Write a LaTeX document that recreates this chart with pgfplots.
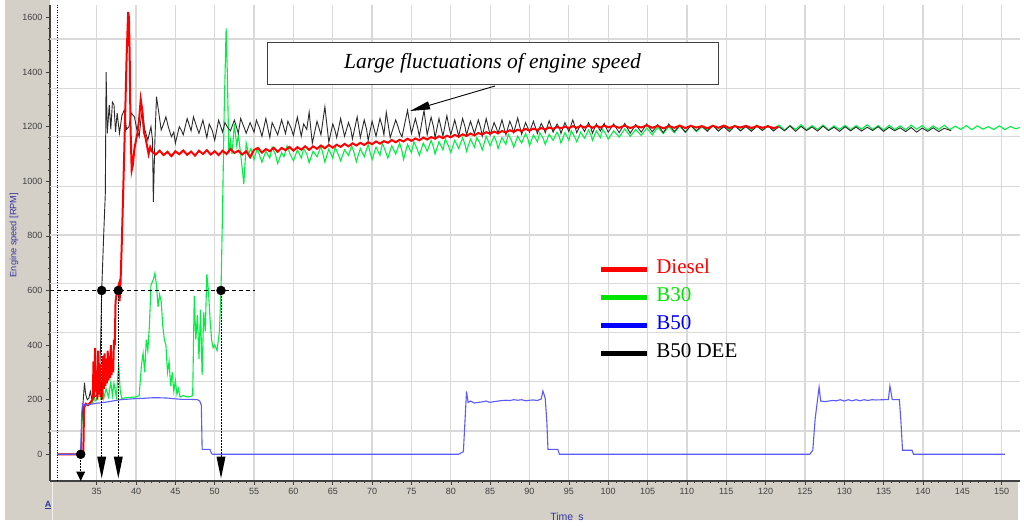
\documentclass[border=0pt]{standalone}
\usepackage{pgfplots}
\pgfplotsset{compat=1.18}
\usetikzlibrary{arrows.meta}
\usepackage{fontspec}
\setmainfont{Liberation Serif}
\newfontfamily\arial{Liberation Sans}
\definecolor{beige}{HTML}{D4D0C8}
\definecolor{bgreen}{HTML}{00F040}
\definecolor{lblue}{HTML}{5A5AFF}
\definecolor{dgray}{HTML}{2B2B2B}
\definecolor{tickgray}{HTML}{404040}
\definecolor{labblue}{HTML}{3333A0}
\definecolor{gridgray}{HTML}{D9D9D9}
\pgfdeclareplotmark{bigtri}{\pgfpathmoveto{\pgfqpoint{-4.5pt}{10.8pt}}\pgfpathlineto{\pgfqpoint{4.5pt}{10.8pt}}\pgfpathlineto{\pgfqpoint{0pt}{-10.8pt}}\pgfpathclose\pgfusepathqfill}
\pgfdeclareplotmark{smalltri}{\pgfpathmoveto{\pgfqpoint{-4.5pt}{4.7pt}}\pgfpathlineto{\pgfqpoint{4.5pt}{4.7pt}}\pgfpathlineto{\pgfqpoint{0pt}{-4.7pt}}\pgfpathclose\pgfusepathqfill}
\begin{document}
\begin{tikzpicture}[x=1pt,y=1pt]
\path[use as bounding box] (0,0) rectangle (1024,526);
\fill[white] (0,0) rectangle (1024,526);
\fill[beige] (5,6) rectangle (50,526);
\fill[beige] (5,6) rectangle (1018,45);
\fill[white!70!beige] (51.5,6) rectangle (53,45);
\begin{axis}[
  at={(50pt,45pt)}, anchor=south west,
  scale only axis, width=970pt, height=476pt,
  xmin=29.07, xmax=152.33, ymin=-97.8, ymax=1645.8,
  axis x line*=bottom, axis y line*=left,
  axis line style={-, draw=tickgray, line width=1.5pt},
  xtick={35,40,...,150}, ytick={0,200,...,1600},
  minor x tick num=4, minor y tick num=4,
  tick align=outside, major tick length=4pt, minor tick length=2pt,
  tick style={draw=tickgray, line width=0.6pt},
  xmajorgrids=true, ymajorgrids=false,
  grid style={draw=gridgray, line width=1.3pt},
  extra y ticks={85.4,266,445,626,803,980,1163,1340,1521},
  extra y tick labels={},
  extra y tick style={grid=major, major tick length=0pt},
  /pgf/number format/assume math mode=true,
  /pgf/number format/1000 sep={},
  ticklabel style={font=\arial\fontsize{9}{10}\selectfont, text=tickgray},
  legend style={at={(0.565,0.472)}, anchor=north west, draw=none, fill=none,
    inner sep=0pt, row sep=5pt, font=\fontsize{21}{21}\selectfont,
    nodes={inner sep=2pt, text height=15pt, text depth=4pt},
    /tikz/every odd column/.append style={column sep=5pt}},
  legend cell align=left,
  legend image code/.code={\draw[#1] (0pt,-1pt) -- (46pt,-1pt);},
]
% B30 (green)
\addplot[forget plot, color=bgreen, line width=1.1pt] coordinates {
(30,0)(33.0,0)(33.1,100)(33.3,180)(34,183)(34.5,190)(34.6,225)(34.8,195)(35.0,200)(35.3,250)(35.5,200)(35.7,270)(35.9,205)(36.2,240)(36.5,210)(36.8,265)(37.0,215)(37.2,260)(37.5,210)(37.8,330)(38.0,230)(38.2,205)(39,208)(40,210)(40.4,215)(40.7,330)(40.9,370)(41.1,300)(41.3,420)(41.5,380)(41.7,470)(41.9,620)(42.2,640)(42.4,663)(42.6,620)(42.8,540)(43.0,585)(43.2,560)(43.4,470)(43.6,420)(43.8,400)(44.0,300)(44.2,340)(44.4,250)(44.6,300)(44.8,230)(45.0,270)(45.2,220)(45.4,240)(45.6,210)(46,215)(46.5,210)(47,212)(47.2,215)(47.4,580)(47.6,420)(47.8,510)(48.0,350)(48.2,530)(48.4,290)(48.6,520)(48.8,450)(49.0,660)(49.2,600)(49.4,500)(49.6,420)(49.8,390)(50.0,400)(50.3,380)(50.6,450)(50.8,600)(51.0,900)(51.2,1250)(51.45,1560)(51.6,1400)(51.8,1100)(52.0,1150)(52.2,1100)(52.5,1210)(52.8,1130)(53.0,1170)(53.3,1100)(53.7,990)(54.0,1140)(54.3,1100)(54.6,1120)
(55.0,1080)(55.4,1120)(55.7,1095)(56.0,1070)(56.5,1110)(57.0,1085)(57.3,1125)(57.7,1100)(58.0,1065)(58.5,1105)(58.8,1090)(59.2,1130)(59.6,1098)(60.0,1075)(60.5,1115)(61.0,1085)(61.3,1120)(61.7,1100)(62.0,1068)(62.5,1110)(63.0,1090)(63.5,1128)(63.8,1095)(64.0,1070)(64.5,1118)(65.0,1085)(65.3,1125)(65.7,1098)(66.0,1075)(66.5,1115)(67.0,1095)(67.4,1130)(67.7,1105)(68.0,1072)(68.5,1120)(69.0,1090)(69.5,1135)(69.8,1100)(70.0,1080)(70.5,1125)(71.0,1095)(71.3,1140)(71.7,1110)(72.0,1085)(72.5,1130)(73.0,1100)(73.5,1140)(73.8,1110)(74.0,1080)(74.5,1135)(75.0,1105)(75.3,1145)(75.7,1120)(76.0,1095)(76.5,1140)(77.0,1110)(77.5,1150)(77.8,1125)(78.0,1100)(78.5,1145)(79.0,1115)(79.3,1155)(79.7,1130)(80.0,1105)(80.5,1150)(81.0,1120)(81.5,1160)(81.8,1135)(82.0,1110)(82.5,1155)(83.0,1125)(83.3,1160)(83.7,1140)(84.0,1115)(84.5,1165)(85.0,1130)(85.5,1165)(85.8,1145)(86.0,1120)(86.5,1160)(87.0,1135)(87.3,1172)(87.7,1150)(88.0,1125)(88.5,1165)(89.0,1140)(89.5,1175)(89.8,1155)(90.0,1130)(90.5,1170)(91.0,1145)(91.3,1178)(91.7,1160)(92.0,1135)(92.5,1172)(93.0,1150)(93.5,1180)(93.8,1162)(94.0,1140)(94.5,1178)(95.0,1150)(95.3,1185)(95.7,1165)(96.0,1145)(96.5,1180)(97.0,1158)(97.5,1188)(97.8,1170)(98.0,1150)(98.5,1185)(99.0,1160)(99.3,1190)(99.7,1172)(100.0,1155)
(100.7,1185)(101.4,1162)(102.1,1192)(102.8,1165)(103.5,1190)(104.2,1168)(104.9,1195)(105.6,1170)(106.3,1198)(107.0,1175)(107.7,1200)(108.4,1178)(109.1,1202)(109.8,1180)(110.5,1205)(111.2,1182)(111.9,1200)(112.6,1186)(113.3,1205)(114.0,1185)(114.7,1202)(115.4,1188)(116.1,1205)(116.8,1186)(117.5,1203)(118.2,1188)(118.9,1206)(119.6,1187)(120.3,1204)(121.0,1190)(121.7,1206)(122.4,1188)(123.1,1204)(123.8,1190)(124.5,1207)(125.2,1189)(125.9,1204)(126.6,1190)(127.3,1206)(128.0,1188)(128.7,1203)(129.4,1190)(130.1,1205)(130.8,1189)(131.5,1204)(132.2,1191)(132.9,1207)(133.6,1190)(134.3,1204)(135.0,1188)(135.7,1205)(136.4,1190)(137.1,1203)(137.8,1189)(138.5,1206)(139.2,1191)(139.9,1204)(140.6,1188)(141.3,1203)(142.0,1190)(142.7,1205)(143.4,1189)(144.1,1202)(144.8,1190)(145.5,1204)(146.2,1189)(146.9,1203)(147.6,1191)(148.3,1200)(149.0,1190)(149.7,1203)(150.4,1189)(151.1,1201)(151.8,1192)(152.3,1197)
};
% B50 DEE (black)
\addplot[forget plot, color=dgray, line width=0.9pt] coordinates {
(30,0)(33.0,0)(33.1,120)(33.3,200)(33.45,262)(33.6,220)(33.8,200)(34.0,205)(34.2,230)(34.4,200)(34.7,210)(35.0,215)(35.2,280)(35.4,321)(35.5,400)(35.64,600)(35.9,810)(36.1,956)(36.2,1400)(36.35,1176)(36.6,1280)(36.8,1190)(37.0,1290)(37.2,1280)(37.4,1180)(37.6,1250)(37.9,1176)(38.2,1240)(38.5,1261)(38.8,1190)(39.1,1200)(39.4,1250)(39.8,1236)(40.1,1190)(40.4,1163)(40.6,1220)(40.8,1261)(41.1,1190)(41.5,1151)(41.9,1200)(42.1,1150)(42.2,925)(42.4,1150)(42.6,1310)(42.9,1250)(43.2,1188)(43.5,1210)(43.8,1236)(44.1,1200)(44.5,1163)(44.8,1180)
(45.0,1139)(45.5,1200)(45.8,1185)(46.0,1170)(46.5,1230)(47.0,1185)(47.3,1236)(47.7,1200)(48.0,1176)(48.5,1224)(49.0,1160)(49.3,1210)(49.7,1185)(50.0,1150)(50.5,1224)(51.0,1180)(51.3,1215)(51.7,1195)(52.0,1185)(52.5,1224)(53.0,1176)(53.3,1230)(53.7,1200)(54.0,1176)(54.5,1215)(55.0,1180)(55.3,1224)(55.7,1195)(56.0,1165)(56.5,1230)(57.0,1160)(57.3,1215)(57.7,1190)(58.0,1170)(58.5,1225)(59.0,1175)(59.3,1220)(59.7,1195)(60.0,1168)(60.5,1235)(61.0,1165)(61.3,1210)(61.7,1190)(62.0,1253)(62.4,1139)(63.0,1220)(63.3,1190)(63.5,1170)(64.0,1273)(64.5,1143)(65.0,1210)(65.3,1185)(65.5,1160)(66.0,1230)(66.5,1165)(67.0,1215)(67.3,1190)(67.5,1155)(68.1,1236)(68.5,1160)(69.0,1225)(69.3,1190)(69.5,1150)(70.0,1220)(70.5,1165)(71.0,1230)(71.3,1200)(71.5,1170)(71.8,1253)(72.3,1160)(73.0,1225)(73.3,1200)(73.5,1180)(73.8,1163)(74.5,1260)(75.0,1175)(75.5,1230)(75.8,1195)(76.0,1165)(76.6,1260)(77.0,1170)(77.5,1235)(77.8,1200)(78.0,1160)(78.5,1230)(79.0,1165)(79.5,1240)(79.8,1195)(80.0,1170)(80.5,1225)(81.0,1165)(81.5,1230)(81.8,1200)(82.0,1170)(82.5,1220)(83.0,1175)(83.5,1225)(83.8,1195)(84.0,1165)(84.5,1230)(85.0,1170)(85.5,1215)(85.8,1195)(86.0,1175)(86.5,1225)(87.0,1170)(87.5,1220)(87.8,1198)(88.0,1178)(88.5,1232)(89.0,1172)(89.5,1215)(89.8,1195)(90.0,1180)(90.5,1220)(91.0,1175)(91.5,1212)(91.8,1195)(92.0,1178)(92.5,1222)(93.0,1180)(93.5,1210)(93.8,1195)(94.0,1175)(94.5,1215)(95.0,1182)(95.5,1225)(95.8,1198)(96.0,1178)(96.5,1208)(97.0,1182)(97.5,1215)(97.8,1196)(98.0,1176)(98.5,1210)(99.0,1184)(99.5,1212)(100.0,1180)
(100.7,1210)(101.4,1178)(102.1,1212)(102.8,1176)(103.5,1208)(104.2,1180)(104.9,1210)(105.6,1181)(106.3,1207)(107.0,1178)(107.7,1210)(108.4,1182)(109.1,1205)(109.8,1180)(110.5,1204)(111.2,1185)(111.9,1202)(112.6,1183)(113.3,1205)(114.0,1184)(114.7,1200)(115.4,1182)(116.1,1203)(116.8,1185)(117.5,1200)(118.2,1183)(118.9,1202)(119.6,1186)(120.3,1204)(121.0,1184)(121.7,1200)(122.4,1185)(123.1,1203)(123.8,1183)(124.5,1201)(125.2,1186)(125.9,1199)(126.6,1184)(127.3,1202)(128.0,1186)(128.7,1198)(129.4,1183)(130.1,1200)(130.8,1185)(131.5,1199)(132.2,1184)(132.9,1198)(133.6,1186)(134.3,1200)(135.0,1183)(135.7,1198)(136.4,1185)(137.1,1196)(137.8,1182)(138.5,1197)(139.2,1180)(139.9,1195)(140.6,1183)(141.3,1196)(142.0,1182)(142.7,1194)(143.6,1185)
};
% Diesel (red)
\addplot[forget plot, color=red, line width=2pt] coordinates {
(30,0)(33.3,0)(33.4,170)(33.6,185)(33.9,180)(34.2,190)(34.5,200)(34.6,340)(34.7,210)(34.8,390)(34.9,230)(35.0,300)(35.1,200)(35.2,380)(35.3,220)(35.4,330)(35.5,210)(35.6,250)(35.7,200)(35.8,360)(35.9,240)(36.0,370)(36.1,250)(36.2,350)(36.3,260)(36.4,380)(36.5,270)(36.6,360)(36.7,280)(36.8,400)(36.9,290)(37.0,350)(37.1,300)(37.2,420)(37.3,400)(37.4,560)(37.5,580)(37.6,600)(37.8,620)(37.9,560)(38.0,600)(38.2,780)(38.5,1100)(38.8,1450)(39.0,1620)(39.1,1600)(39.2,1450)(39.3,1200)(39.45,1040)(39.6,1060)(39.8,1120)(40.0,1150)(40.2,1180)(40.4,1230)(40.6,1300)(40.8,1260)(41.0,1180)(41.2,1160)(41.4,1130)(41.6,1100)(41.8,1125)
(42.0,1110)(42.5,1098)(43.0,1112)(43.5,1096)(44.0,1108)(44.5,1092)(45.0,1110)(45.5,1099)(46.0,1113)(46.5,1097)(47.0,1109)(47.5,1094)(48.0,1112)(48.5,1100)(49.0,1114)(49.5,1098)(50.0,1110)(50.5,1096)(51.0,1112)(51.5,1100)(52.0,1118)(52.5,1104)(53.0,1112)(53.5,1098)(54.0,1110)(54.5,1088)(55.0,1115)(55.5,1122)(56.0,1105)(56.5,1118)(57.0,1110)(57.5,1123)(58.0,1108)(58.5,1122)(59.0,1114)(59.5,1126)(60.0,1112)(60.5,1125)(61.0,1116)(61.5,1128)(62.0,1115)(62.5,1128)(63.0,1119)(63.5,1131)(64.0,1121)(64.5,1133)(65.0,1123)(65.5,1134)(66.0,1126)(66.5,1137)(67.0,1128)(67.5,1139)(68.0,1131)(68.5,1141)(69.0,1133)(69.5,1143)(70.0,1136)(70.5,1146)(71.0,1138)(71.5,1147)(72.0,1141)(72.5,1151)(73.0,1143)(73.5,1152)(74.0,1146)(74.5,1156)(75.0,1148)(75.5,1157)(76.0,1150)(76.5,1160)(77.0,1153)(77.5,1162)(78.0,1156)(78.5,1165)(79.0,1158)(79.5,1167)(80.0,1161)(80.5,1170)(81.0,1163)(81.5,1172)(82.0,1166)(82.5,1175)(83.0,1168)(83.5,1177)(84.0,1171)(84.5,1180)(85.0,1174)(85.5,1182)(86.0,1176)(86.5,1184)(87.0,1179)(87.5,1187)(88.0,1181)(88.5,1189)(89.0,1184)(89.5,1192)(90.0,1186)(90.5,1193)(91.0,1188)(91.5,1195)(92.0,1190)(92.5,1197)(93.0,1192)(93.5,1199)(94.0,1194)(94.5,1200)(95.0,1195)(95.5,1202)(96.0,1196)(96.5,1203)(97.0,1197)(97.5,1204)(98.0,1196)(98.5,1203)(99.0,1197)(99.5,1204)(100,1198)
(100.7,1203)(101.4,1196)(102.1,1204)(102.8,1195)(103.5,1202)(104.2,1197)(104.9,1205)(105.6,1196)(106.3,1203)(107.0,1194)(107.7,1202)(108.4,1196)(109.1,1204)(109.8,1195)(110.5,1203)(111.2,1197)(111.9,1202)(112.6,1194)(113.3,1203)(114.0,1196)(114.7,1204)(115.4,1195)(116.1,1202)(116.8,1197)(117.5,1203)(118.2,1195)(118.9,1202)(119.6,1196)(120.3,1201)(121.0,1195)(121.6,1199)
};
% B50 (blue)
\addplot[forget plot, color=lblue, line width=1.1pt] coordinates {
(30,0)(32.9,0)(33.0,40)(33.1,150)(33.2,185)(33.5,180)(34,182)(35,187)(36,190)(37,195)(38,200)(39,202)(40,204)(41,205)(42,207)(43,207)(44,206)(45,203)(45.5,202)(46,201)(47,201)(47.8,200)(48.1,195)(48.3,180)(48.4,18)(49.4,18)(49.6,2)(49.8,0)
(81.0,0)(81.6,10)(81.8,120)(82.0,230)(82.2,190)(82.5,195)(83,188)(83.5,190)(84,192)(84.5,195)(85,190)(85.5,193)(86,195)(86.5,197)(87,198)(87.5,197)(88,200)(88.5,198)(89,200)(89.5,196)(90,198)(90.5,199)(91,197)(91.5,203)(91.7,232)(92.0,205)(92.2,120)(92.35,18)(93.6,18)(93.8,0)
(125.6,0)(126,15)(126.3,130)(126.6,200)(126.8,246)(127,195)(127.5,193)(128,195)(128.5,197)(129,196)(129.5,200)(130,195)(130.5,200)(131,196)(131.5,200)(132,196)(132.5,200)(133,197)(133.5,200)(134,199)(135,200)(135.6,200)(135.8,250)(136.1,200)(137,200)(137.2,120)(137.4,15)(138.6,15)(138.8,0)(150.4,0)
};
% annotation lines and markers
\addplot[forget plot, black, line width=0.9pt, dash pattern=on 1pt off 1.5pt] coordinates {(30,-97.8)(30,1645.8)};
\addplot[forget plot, black, line width=1pt, dash pattern=on 4pt off 3pt] coordinates {(29.07,600)(55.1,600)};
\addplot[forget plot, black, line width=0.8pt, dash pattern=on 1.5pt off 1.5pt] coordinates {(35.64,600)(35.64,-40)};
\addplot[forget plot, black, line width=0.8pt, dash pattern=on 1.5pt off 1.5pt] coordinates {(37.75,600)(37.75,-40)};
\addplot[forget plot, black, line width=0.8pt, dash pattern=on 1.5pt off 1.5pt] coordinates {(50.8,600)(50.8,-40)};
\addplot[forget plot, black, line width=0.8pt, dash pattern=on 1.5pt off 1.5pt] coordinates {(32.97,0)(32.97,-78)};
\addplot[forget plot, only marks, mark=*, mark size=4.5pt, black] coordinates {(35.64,600)(37.75,600)(50.8,600)(32.97,0)};
\addplot[forget plot, only marks, mark=bigtri, black] coordinates {(35.64,-48.4)(37.75,-48.4)(50.8,-48.4)};
\addplot[forget plot, only marks, mark=smalltri, black] coordinates {(32.97,-80.6)};
% legend
\addlegendimage{red, line width=5pt}
\addlegendentry{\textcolor{red}{Diesel}}
\addlegendimage{green!90!black, line width=5pt}
\addlegendentry{\textcolor{green!90!black}{B30}}
\addlegendimage{blue, line width=5pt}
\addlegendentry{\textcolor{blue}{B50}}
\addlegendimage{black, line width=5pt}
\addlegendentry{B50 DEE}
\end{axis}
% annotation box and arrow
\node[draw=tickgray, line width=0.8pt, fill=white, minimum width=451pt, minimum height=42pt, inner sep=0pt,
  font=\itshape\fontsize{21.5}{21.5}\selectfont] at (492.5,463) {Large fluctuations of engine speed};
\draw[line width=0.9pt, -{Triangle[length=20pt,width=8pt]}] (495,440) -- (410,415);
% axis titles
\node[rotate=90, text=labblue, font=\arial\fontsize{9.2}{10}\selectfont] at (14,291) {Engine speed [RPM]};
\node[text=labblue, font=\arial\fontsize{10.5}{11}\selectfont] at (567,9) {Time\enspace s};
\node[text=labblue, font=\arial\bfseries\fontsize{9}{10}\selectfont] at (48,21) {\underline{A}};
\end{tikzpicture}
\end{document}
